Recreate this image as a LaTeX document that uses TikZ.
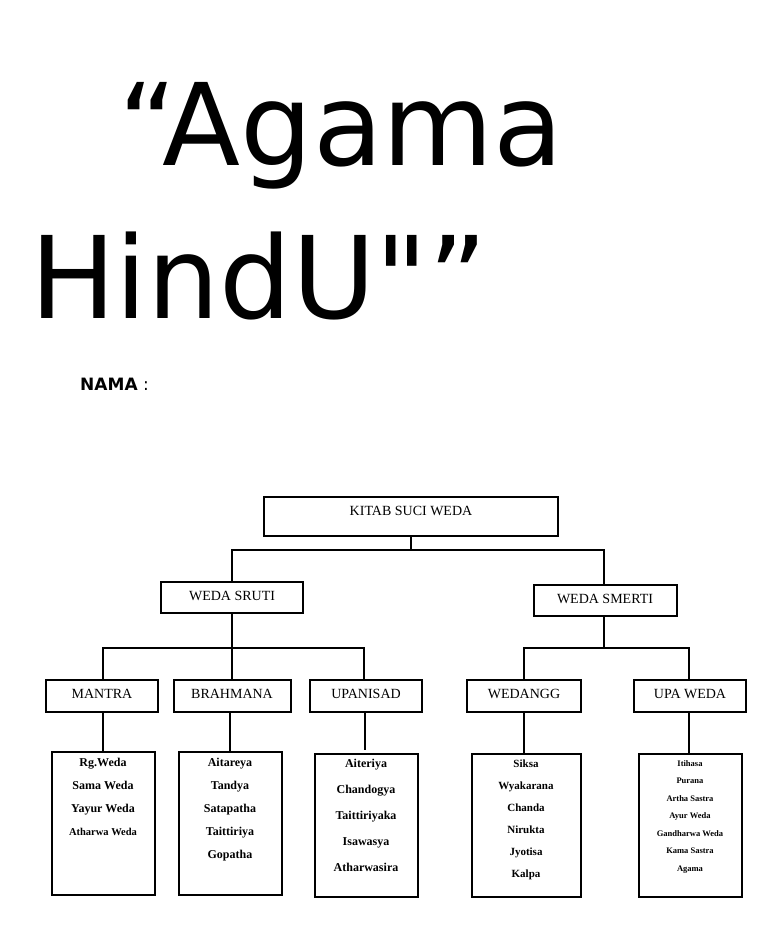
\documentclass[tikz,border=0pt]{standalone}
\usepackage{fontspec}
\setmainfont{Liberation Serif}
\newfontfamily\djv{DejaVu Sans}
\begin{document}
\begin{tikzpicture}[x=1pt,y=-1pt,
  bx/.style={draw,line width=1.2pt},
  conn/.style={line width=2pt},
  lbl/.style={font=\fontsize{14}{16}\selectfont},
  lst/.style={font=\bfseries\fontsize{12}{23}\selectfont,align=center},
  lsts/.style={font=\bfseries\fontsize{8.5}{17.5}\selectfont,align=center}]
\useasboundingbox (0,0) rectangle (768,932);
\node[anchor=base west,inner sep=0,font=\djv\fontsize{114}{114}\selectfont] (t1) at (118,165) {“Agama};
\node[anchor=base west,inner sep=0,font=\djv\fontsize{114}{114}\selectfont] (t2) at (30,318) {HindU"”};
\node[anchor=base west,inner sep=0,font=\djv\fontsize{17}{17}\selectfont] (nm) at (80,390) {\textbf{NAMA} :};
% boxes
\draw[bx] (264,497) rectangle (558,536);
\node[lbl,anchor=base] (kitab) at (411,515) {KITAB SUCI WEDA};
\draw[bx] (161,582) rectangle (303,613);
\node[lbl,anchor=base] (sruti) at (232,600) {WEDA SRUTI};
\draw[bx] (534,585) rectangle (677,616);
\node[lbl,anchor=base] (smerti) at (605,603) {WEDA SMERTI};
\draw[bx] (46,680) rectangle (158,712);
\node[lbl,anchor=base] (mantra) at (102,698) {MANTRA};
\draw[bx] (174,680) rectangle (291,712);
\node[lbl,anchor=base] (brah) at (232,698) {BRAHMANA};
\draw[bx] (310,680) rectangle (422,712);
\node[lbl,anchor=base] (upan) at (366,698) {UPANISAD};
\draw[bx] (467,680) rectangle (581,712);
\node[lbl,anchor=base] (wedg) at (524,698) {WEDANGG};
\draw[bx] (634,680) rectangle (746,712);
\node[lbl,anchor=base] (upaw) at (690,698) {UPA WEDA};
% list boxes
\draw[bx] (52,752) rectangle (155,895);
\node[lst,anchor=north] (l1) at (103,755) {Rg.Weda\\Sama Weda\\Yayur Weda\\{\fontsize{10.5}{12}\selectfont Atharwa Weda}};
\draw[bx] (179,752) rectangle (282,895);
\node[lst,anchor=north] (l2) at (230,755) {Aitareya\\Tandya\\Satapatha\\Taittiriya\\Gopatha};
\draw[bx] (315,754) rectangle (418,897);
\node[lst,anchor=north,font=\bfseries\fontsize{12}{26}\selectfont] (l3) at (366,756) {Aiteriya\\Chandogya\\Taittiriyaka\\Isawasya\\Atharwasira};
\draw[bx] (472,754) rectangle (581,897);
\node[lst,anchor=north,font=\bfseries\fontsize{11}{22}\selectfont] (l4) at (526,756) {Siksa\\Wyakarana\\Chanda\\Nirukta\\Jyotisa\\Kalpa};
\draw[bx] (639,754) rectangle (742,897);
\node[lsts,anchor=north] (l5) at (690,757) {Itihasa\\Purana\\Artha Sastra\\Ayur Weda\\Gandharwa Weda\\Kama Sastra\\Agama};
% connectors
\coordinate (j0) at (411,550);
\draw[conn] (411,536) -- (j0);
\draw[conn] (232,582) -- (232,550) -- (604,550) -- (604,585);
\draw[conn] (232,613) -- (232,680);
\draw[conn] (103,680) -- (103,648) -- (364,648) -- (364,680);
\draw[conn] (604,616) -- (604,648);
\draw[conn] (524,680) -- (524,648) -- (689,648) -- (689,680);
\draw[conn] (103,712) -- (103,752);
\draw[line width=1.5pt] (230,712) -- (230,752);
\draw[line width=1.5pt] (365,712) -- (365,750);
\draw[line width=1.5pt] (524,712) -- (524,754);
\draw[line width=1.5pt] (689,712) -- (689,754);
\end{tikzpicture}
\end{document}
